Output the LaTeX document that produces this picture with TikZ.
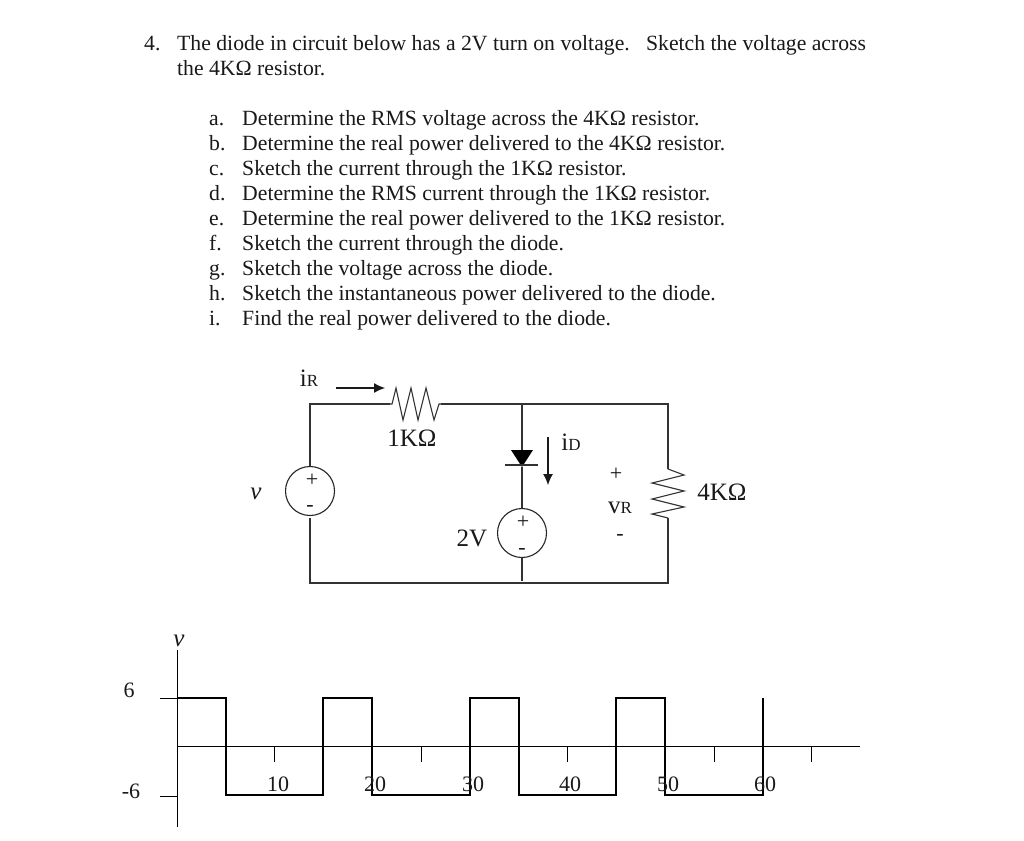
\documentclass[tikz,border=0pt]{standalone}
\usepackage{fontspec}
\setmainfont{Liberation Serif}
\usetikzlibrary{arrows.meta}
\tikzset{
  x=1pt,y=-1pt,
  txt/.style={inner sep=0pt,anchor=base west,font=\fontsize{21.7}{25}\selectfont,text=black!90},
  lab/.style={inner sep=0pt,anchor=base,font=\fontsize{25}{28}\selectfont,text=black!90},
  num/.style={inner sep=0pt,anchor=base,font=\fontsize{22}{25}\selectfont,text=black!90},
  sym/.style={inner sep=0pt,anchor=center,font=\fontsize{22}{24}\selectfont,text=black!90},
  src/.style={circle,draw=black!85,line width=1.1pt,minimum size=49pt,inner sep=0pt},
  wire/.style={draw=black!80,line width=1.1pt},
  thin axis/.style={draw=black,line width=1pt},
  wave/.style={draw=black,line width=2.4pt,line join=miter},
  arr/.style={draw=black!90,line width=1.1pt,-{Latex[length=11pt,width=10pt]}}
}
\newcommand{\sbs}[1]{{\fontsize{17}{17}\selectfont #1}}
\begin{document}
\begin{tikzpicture}
\useasboundingbox (0,0) rectangle (1024,840);
\fill[white] (0,0) rectangle (1024,840);
% question text
\node[txt] (qn) at (144,51) {4.};
\node[txt] (q1) at (177,51) {The diode in circuit below has a 2V turn on voltage.\hspace{0.75em}Sketch the voltage across};
\node[txt] (q2) at (177,76) {the 4KΩ resistor.};
\node[txt] (la) at (209,125) {a.}; \node[txt] (ta) at (242,125) {Determine the RMS voltage across the 4KΩ resistor.};
\node[txt] (lb) at (209,150) {b.}; \node[txt] (tb) at (242,150) {Determine the real power delivered to the 4KΩ resistor.};
\node[txt] (lc) at (209,175) {c.}; \node[txt] (tc) at (242,175) {Sketch the current through the 1KΩ resistor.};
\node[txt] (ld) at (209,200) {d.}; \node[txt] (td) at (242,200) {Determine the RMS current through the 1KΩ resistor.};
\node[txt] (le) at (209,225) {e.}; \node[txt] (te) at (242,225) {Determine the real power delivered to the 1KΩ resistor.};
\node[txt] (lf) at (209,250) {f.}; \node[txt] (tf) at (242,250) {Sketch the current through the diode.};
\node[txt] (lg) at (209,275) {g.}; \node[txt] (tg) at (242,275) {Sketch the voltage across the diode.};
\node[txt] (lh) at (209,300) {h.}; \node[txt] (th) at (242,300) {Sketch the instantaneous power delivered to the diode.};
\node[txt] (li) at (209,325) {i.}; \node[txt] (ti) at (242,325) {Find the real power delivered to the diode.};
% circuit
\node[src] (vs) at (310,491) {};
\node[src] (vd) at (522,533) {};
\node[sym] (vsp) at (312,480) {+};
\node[sym] (vsm) at (310,508) {-};
\node[sym] (vdp) at (523,522) {+};
\node[sym] (vdm) at (522,551) {-};
\coordinate (tl) at (310,404);
\coordinate (bl) at (310,583);
\coordinate (tr) at (668,404);
\coordinate (br) at (668,583);
\coordinate (jt) at (522,404);
\coordinate (jb) at (522,581);
\coordinate (r1a) at (390,404);
\coordinate (r1b) at (441,404);
\coordinate (r4a) at (668,469);
\coordinate (r4b) at (668,518);
\coordinate (da) at (522,467);
\coordinate (dg) at (522,451);
\coordinate (vsb) at (310,518);
\path[wire] (vs.north) -- (tl) -- (r1a);
\path[wire,line join=miter] (r1a) -- (392,404) -- (396,388) -- (403,420) -- (411,388) -- (418,420) -- (426,388) -- (434,420) -- (439,404) -- (r1b);
\path[wire] (r1b) -- (jt) -- (tr) -- (r4a);
\path[wire,line join=miter] (r4a) -- (684,475) -- (652,483) -- (684,491) -- (652,499) -- (684,507) -- (652,514) -- (r4b);
\path[wire] (r4b) -- (br) -- (bl) -- (vsb);
\path[wire] (jt) -- (dg);
\path[wire] (da) -- (vd.north);
\path[wire] (vd.south) -- (jb);
\path[fill=black] (511,450) -- (533,450) -- (522,467) -- cycle;
\path[wire] (505,465) -- (538,465);
% current arrows
\coordinate (ira) at (336,388);
\coordinate (irb) at (385,388);
\coordinate (ida) at (548,437);
\coordinate (idb) at (548,485);
\path[arr] (ira) -- (irb);
\path[arr] (ida) -- (idb);
% circuit labels
\node[lab] (liR) at (309,386) {i\sbs{R}};
\node[lab] (l1k) at (412,446) {1KΩ};
\node[lab] (l2v) at (472,546) {2V};
\node[lab] (l4k) at (722,500) {4KΩ};
\node[lab] (liD) at (571,450) {i\sbs{D}};
\node[lab] (lv) at (256,499) {\textit{v}};
\node[sym] (vrp) at (616,474) {+};
\node[lab] (lvR) at (620,513) {v\sbs{R}};
\node[sym] (vrm) at (620,537) {-};
% graph axes
\coordinate (ax1) at (177,650);
\coordinate (ax2) at (177,827);
\coordinate (h1) at (177,746);
\coordinate (h2) at (860,746);
\path[thin axis] (ax1) -- (ax2);
\path[thin axis] (h1) -- (h2);
\coordinate (y6) at (160,698);
\coordinate (ym6) at (160,796);
\path[thin axis] (y6) -- (177,698);
\path[thin axis] (ym6) -- (177,796);
\foreach \tx in {274,421,567,714,811}{
  \path[thin axis] (\tx,746) -- (\tx,762);
}
% waveform
\path[wave] (177,698) -- (226,698) -- (226,795) -- (323,795) -- (323,698) -- (372,698) -- (372,795) -- (470,795) -- (470,698) -- (519,698) -- (519,795) -- (616,795) -- (616,698) -- (665,698) -- (665,795) -- (763,795) -- (763,698);
% graph labels
\node[lab] (lgv) at (179,646) {\textit{v}};
\node[num] (l6) at (129,697) {6};
\node[num] (lm6) at (131,798) {-6};
\node[num] (n10) at (278,791) {10};
\node[num] (n20) at (375,791) {20};
\node[num] (n30) at (473,791) {30};
\node[num] (n40) at (570,791) {40};
\node[num] (n50) at (668,791) {50};
\node[num] (n60) at (765,791) {60};
\end{tikzpicture}
\end{document}
